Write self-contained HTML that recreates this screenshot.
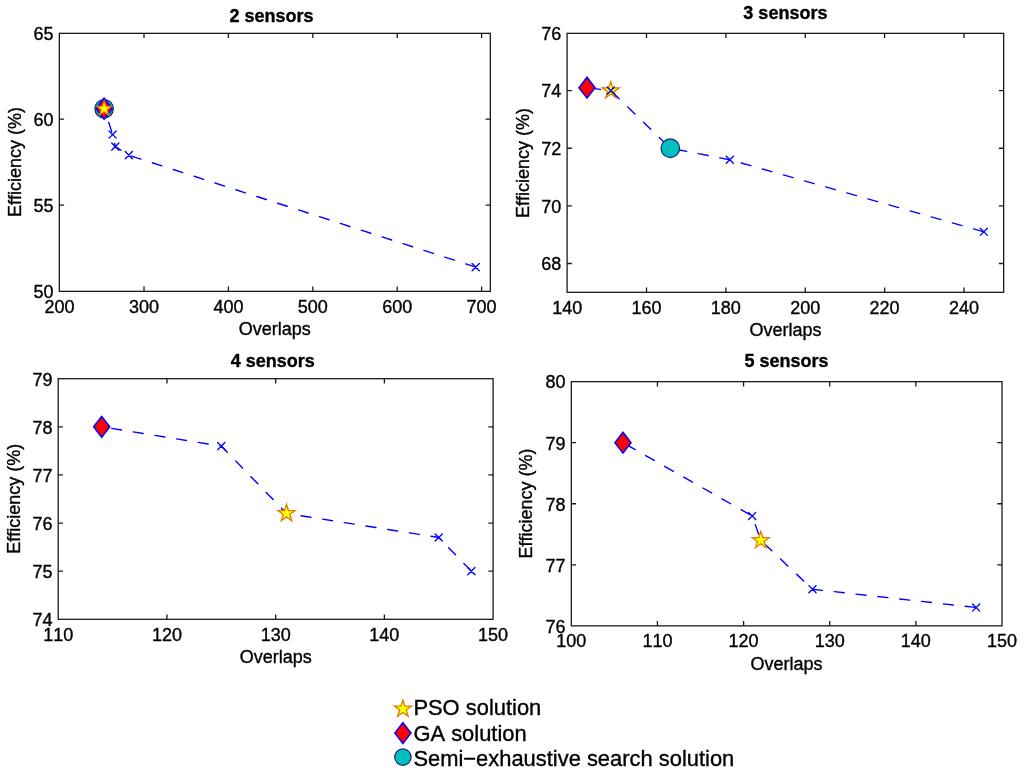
<!DOCTYPE html>
<html lang="en"><head><meta charset="utf-8"><title>Efficiency vs overlaps for 2-5 sensors</title>
<style>html,body{margin:0;padding:0;background:#fff;}body{width:1024px;height:772px;overflow:hidden;}svg{display:block;}text{font-family:"Liberation Sans", Arial, Helvetica, sans-serif;font-size:18px;fill:#000;stroke:#000;stroke-width:0.35px;font-variant-ligatures:none;font-kerning:none;}.t{font-weight:bold;}.lg{font-size:21.92px;}</style></head><body>
<svg width="1024" height="772" viewBox="0 0 1024 772">
<rect width="1024" height="772" fill="#fff"/>
<g id="ax1">
<polyline points="104.34,108.7 112.61,134.53 115.31,146.58 128.81,155.19 475.72,267.1" fill="none" stroke="#0000ff" stroke-width="1.4" stroke-dasharray="9.98 11.97" stroke-dashoffset="7.59" stroke-linejoin="round" stroke-linecap="round"/>
<path d="M109.01 130.93L116.21 138.13M109.01 138.13L116.21 130.93" fill="none" stroke="#0000ff" stroke-width="1.35" stroke-linecap="round"/>
<path d="M111.71 142.98L118.91 150.18M111.71 150.18L118.91 142.98" fill="none" stroke="#0000ff" stroke-width="1.35" stroke-linecap="round"/>
<path d="M125.21 151.59L132.41 158.79M125.21 158.79L132.41 151.59" fill="none" stroke="#0000ff" stroke-width="1.35" stroke-linecap="round"/>
<path d="M472.12 263.5L479.32 270.7M472.12 270.7L479.32 263.5" fill="none" stroke="#0000ff" stroke-width="1.35" stroke-linecap="round"/>
<circle cx="104.14" cy="108.7" r="9.2" fill="#00bfbf" stroke="#14246e" stroke-width="1.2"/>
<polygon points="104.14,98.1 112.19,108.7 104.14,119.3 96.09,108.7" fill="#ff0000" stroke="#0000ff" stroke-width="1.5" stroke-linejoin="miter"/>
<polygon points="104.14,100.8 105.91,106.26 111.65,106.26 107.01,109.64 108.78,115.09 104.14,111.72 99.49,115.09 101.27,109.64 96.62,106.26 102.36,106.26" fill="#ffff00" stroke="#de7d00" stroke-width="1.1" stroke-linejoin="miter"/>
<rect x="59.35" y="33.35" width="431" height="258" fill="none" stroke="#1a1a1a" stroke-width="1.3"/>
<path d="M144.01 291.35v-4.75M144.01 33.35v4.75M228.41 291.35v-4.75M228.41 33.35v4.75M312.82 291.35v-4.75M312.82 33.35v4.75M397.22 291.35v-4.75M397.22 33.35v4.75M481.63 291.35v-4.75M481.63 33.35v4.75M59.35 205.12h4.75M490.35 205.12h-4.75M59.35 119.03h4.75M490.35 119.03h-4.75" fill="none" stroke="#1a1a1a" stroke-width="1.3"/>
<text x="59.6" y="312.95" text-anchor="middle">200</text>
<text x="144.01" y="312.95" text-anchor="middle">300</text>
<text x="228.41" y="312.95" text-anchor="middle">400</text>
<text x="312.82" y="312.95" text-anchor="middle">500</text>
<text x="397.22" y="312.95" text-anchor="middle">600</text>
<text x="481.63" y="312.95" text-anchor="middle">700</text>
<text x="53.65" y="298" text-anchor="end">50</text>
<text x="53.65" y="211.92" text-anchor="end">55</text>
<text x="53.65" y="125.83" text-anchor="end">60</text>
<text x="53.65" y="39.75" text-anchor="end">65</text>
<text class="t" x="271.6" y="21.5" text-anchor="middle">2 sensors</text>
<text x="274.7" y="334.75" text-anchor="middle">Overlaps</text>
<text transform="translate(20.7 162) rotate(-90)" text-anchor="middle">Efficiency (%)</text>
</g>
<g id="ax2">
<polygon points="610.8,81.6 612.82,87.82 619.36,87.82 614.07,91.66 616.09,97.88 610.8,94.04 605.51,97.88 607.53,91.66 602.24,87.82 608.78,87.82" fill="#ffff00" stroke="#de7d00" stroke-width="1.3" stroke-linejoin="miter"/>
<polyline points="586.99,87.72 610.8,90.6 670.32,148.23 729.85,159.75 983.81,231.79" fill="none" stroke="#0000ff" stroke-width="1.4" stroke-dasharray="9.98 11.97" stroke-dashoffset="18.29" stroke-linejoin="round" stroke-linecap="round"/>
<path d="M607.2 87L614.4 94.2M607.2 94.2L614.4 87" fill="none" stroke="#0000ff" stroke-width="1.35" stroke-linecap="round"/>
<path d="M726.25 156.15L733.45 163.35M726.25 163.35L733.45 156.15" fill="none" stroke="#0000ff" stroke-width="1.35" stroke-linecap="round"/>
<path d="M980.21 228.19L987.41 235.39M980.21 235.39L987.41 228.19" fill="none" stroke="#0000ff" stroke-width="1.35" stroke-linecap="round"/>
<polygon points="586.99,77.32 595.04,87.72 586.99,98.12 578.94,87.72" fill="#ff0000" stroke="#0000ff" stroke-width="1.5" stroke-linejoin="miter"/>
<circle cx="670.32" cy="148.23" r="9.3" fill="#00bfbf" stroke="#14246e" stroke-width="1.2"/>
<rect x="567.1" y="33.35" width="436.55" height="258.95" fill="none" stroke="#1a1a1a" stroke-width="1.3"/>
<path d="M646.51 292.3v-4.75M646.51 33.35v4.75M725.88 292.3v-4.75M725.88 33.35v4.75M805.24 292.3v-4.75M805.24 33.35v4.75M884.6 292.3v-4.75M884.6 33.35v4.75M963.97 292.3v-4.75M963.97 33.35v4.75M567.1 263.49h4.75M1003.65 263.49h-4.75M567.1 205.86h4.75M1003.65 205.86h-4.75M567.1 148.23h4.75M1003.65 148.23h-4.75M567.1 90.6h4.75M1003.65 90.6h-4.75" fill="none" stroke="#1a1a1a" stroke-width="1.3"/>
<text x="567.15" y="314.3" text-anchor="middle">140</text>
<text x="646.51" y="314.3" text-anchor="middle">160</text>
<text x="725.88" y="314.3" text-anchor="middle">180</text>
<text x="805.24" y="314.3" text-anchor="middle">200</text>
<text x="884.6" y="314.3" text-anchor="middle">220</text>
<text x="963.97" y="314.3" text-anchor="middle">240</text>
<text x="561.4" y="270.29" text-anchor="end">68</text>
<text x="561.4" y="212.66" text-anchor="end">70</text>
<text x="561.4" y="155.03" text-anchor="end">72</text>
<text x="561.4" y="97.4" text-anchor="end">74</text>
<text x="561.4" y="39.77" text-anchor="end">76</text>
<text class="t" x="785.4" y="18.5" text-anchor="middle">3 sensors</text>
<text x="785.4" y="336.25" text-anchor="middle">Overlaps</text>
<text transform="translate(529.1 163) rotate(-90)" text-anchor="middle">Efficiency (%)</text>
</g>
<g id="ax3">
<polyline points="101.69,426.82 221.29,446.07 286.52,513.44 438.74,537.5 471.36,571.18" fill="none" stroke="#0000ff" stroke-width="1.4" stroke-dasharray="9.98 11.97" stroke-dashoffset="11.89" stroke-linejoin="round" stroke-linecap="round"/>
<path d="M217.69 442.47L224.89 449.67M217.69 449.67L224.89 442.47" fill="none" stroke="#0000ff" stroke-width="1.35" stroke-linecap="round"/>
<path d="M435.14 533.9L442.34 541.1M435.14 541.1L442.34 533.9" fill="none" stroke="#0000ff" stroke-width="1.35" stroke-linecap="round"/>
<path d="M467.75 567.58L474.96 574.78M467.75 574.78L474.96 567.58" fill="none" stroke="#0000ff" stroke-width="1.35" stroke-linecap="round"/>
<polygon points="101.69,416.42 109.74,426.82 101.69,437.22 93.64,426.82" fill="#ff0000" stroke="#0000ff" stroke-width="1.5" stroke-linejoin="miter"/>
<polygon points="286.52,504.44 288.54,510.65 295.08,510.65 289.79,514.5 291.81,520.72 286.52,516.87 281.23,520.72 283.25,514.5 277.96,510.65 284.5,510.65" fill="#ffff00" stroke="#de7d00" stroke-width="1.3" stroke-linejoin="miter"/>
<rect x="58.2" y="378.7" width="434.9" height="240.6" fill="none" stroke="#1a1a1a" stroke-width="1.3"/>
<path d="M166.93 619.3v-4.75M166.93 378.7v4.75M275.65 619.3v-4.75M275.65 378.7v4.75M384.38 619.3v-4.75M384.38 378.7v4.75M58.2 571.18h4.75M493.1 571.18h-4.75M58.2 523.06h4.75M493.1 523.06h-4.75M58.2 474.94h4.75M493.1 474.94h-4.75M58.2 426.82h4.75M493.1 426.82h-4.75" fill="none" stroke="#1a1a1a" stroke-width="1.3"/>
<text x="58.2" y="641.2" text-anchor="middle">110</text>
<text x="166.93" y="641.2" text-anchor="middle">120</text>
<text x="275.65" y="641.2" text-anchor="middle">130</text>
<text x="384.38" y="641.2" text-anchor="middle">140</text>
<text x="493.1" y="641.2" text-anchor="middle">150</text>
<text x="52.5" y="626.1" text-anchor="end">74</text>
<text x="52.5" y="577.98" text-anchor="end">75</text>
<text x="52.5" y="529.86" text-anchor="end">76</text>
<text x="52.5" y="481.74" text-anchor="end">77</text>
<text x="52.5" y="433.62" text-anchor="end">78</text>
<text x="52.5" y="385.5" text-anchor="end">79</text>
<text class="t" x="272.8" y="367.25" text-anchor="middle">4 sensors</text>
<text x="275.75" y="663.1" text-anchor="middle">Overlaps</text>
<text transform="translate(20.1 498.75) rotate(-90)" text-anchor="middle">Efficiency (%)</text>
</g>
<g id="ax4">
<polyline points="622.98,442.7 752.19,515.96 760.81,540.38 812.49,589.22 976.16,607.54" fill="none" stroke="#0000ff" stroke-width="1.4" stroke-dasharray="9.98 11.97" stroke-dashoffset="17.89" stroke-linejoin="round" stroke-linecap="round"/>
<path d="M748.59 512.36L755.79 519.56M748.59 519.56L755.79 512.36" fill="none" stroke="#0000ff" stroke-width="1.35" stroke-linecap="round"/>
<path d="M808.89 585.62L816.09 592.82M808.89 592.82L816.09 585.62" fill="none" stroke="#0000ff" stroke-width="1.35" stroke-linecap="round"/>
<path d="M972.56 603.94L979.76 611.14M972.56 611.14L979.76 603.94" fill="none" stroke="#0000ff" stroke-width="1.35" stroke-linecap="round"/>
<polygon points="622.98,432.3 631.03,442.7 622.98,453.1 614.93,442.7" fill="#ff0000" stroke="#0000ff" stroke-width="1.5" stroke-linejoin="miter"/>
<polygon points="760.81,531.38 762.83,537.6 769.37,537.6 764.08,541.44 766.1,547.66 760.81,543.82 755.52,547.66 757.54,541.44 752.25,537.6 758.79,537.6" fill="#ffff00" stroke="#de7d00" stroke-width="1.3" stroke-linejoin="miter"/>
<rect x="571.3" y="381.65" width="430.7" height="244.2" fill="none" stroke="#1a1a1a" stroke-width="1.3"/>
<path d="M657.44 625.85v-4.75M657.44 381.65v4.75M743.58 625.85v-4.75M743.58 381.65v4.75M829.72 625.85v-4.75M829.72 381.65v4.75M915.86 625.85v-4.75M915.86 381.65v4.75M571.3 564.8h4.75M1002 564.8h-4.75M571.3 503.75h4.75M1002 503.75h-4.75M571.3 442.7h4.75M1002 442.7h-4.75" fill="none" stroke="#1a1a1a" stroke-width="1.3"/>
<text x="571.3" y="647.45" text-anchor="middle">100</text>
<text x="657.44" y="647.45" text-anchor="middle">110</text>
<text x="743.58" y="647.45" text-anchor="middle">120</text>
<text x="829.72" y="647.45" text-anchor="middle">130</text>
<text x="915.86" y="647.45" text-anchor="middle">140</text>
<text x="1002" y="647.45" text-anchor="middle">150</text>
<text x="565.6" y="632.65" text-anchor="end">76</text>
<text x="565.6" y="571.6" text-anchor="end">77</text>
<text x="565.6" y="510.55" text-anchor="end">78</text>
<text x="565.6" y="449.5" text-anchor="end">79</text>
<text x="565.6" y="388.45" text-anchor="end">80</text>
<text class="t" x="786.5" y="367.25" text-anchor="middle">5 sensors</text>
<text x="786.5" y="669.75" text-anchor="middle">Overlaps</text>
<text transform="translate(532.4 503.5) rotate(-90)" text-anchor="middle">Efficiency (%)</text>
</g>
<g id="legend">
<polygon points="402.9,700 404.92,706.22 411.46,706.22 406.17,710.06 408.19,716.28 402.9,712.44 397.61,716.28 399.63,710.06 394.34,706.22 400.88,706.22" fill="#ffff00" stroke="#de7d00" stroke-width="1.3" stroke-linejoin="miter"/>
<polygon points="402.9,722.7 410.95,733.1 402.9,743.5 394.85,733.1" fill="#ff0000" stroke="#0000ff" stroke-width="1.5" stroke-linejoin="miter"/>
<circle cx="402.9" cy="757.1" r="8.2" fill="#00bfbf" stroke="#14246e" stroke-width="1.2"/>
<text class="lg" x="413.4" y="715.2">PSO solution</text>
<text class="lg" x="413.4" y="740.6">GA solution</text>
<text class="lg" x="413.4" y="765.6">Semi−exhaustive search solution</text>
</g>
</svg></body></html>
